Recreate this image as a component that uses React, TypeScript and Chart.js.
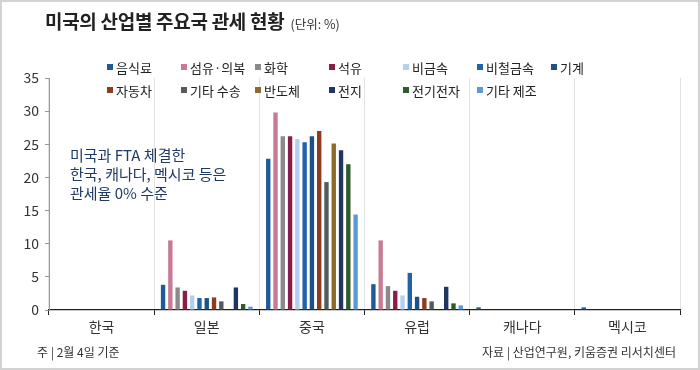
import React, { useEffect, useRef } from "react";
import { Chart, registerables } from "chart.js";

Chart.register(...registerables);

const FONT = '"Noto Sans CJK KR", "Noto Sans", sans-serif';

const categories = ["한국", "일본", "중국", "유럽", "캐나다", "멕시코"];

const seriesNames = [
  "음식료", "섬유·의복", "화학", "석유", "비금속", "비철금속", "기계",
  "자동차", "기타 수송", "반도체", "전지", "전기전자", "기타 제조",
];

const seriesColors = [
  "#1f5a96", "#c87a95", "#8a8a8a", "#8a1e48", "#b3d0ee", "#1f63aa", "#1d4f88",
  "#8e3b1f", "#555a5a", "#8c6a2b", "#1f3663", "#2f5a2c", "#5a9bd6",
];

// values per series, in category order: 한국, 일본, 중국, 유럽, 캐나다, 멕시코
const foodValues = [0, 3.8, 22.8, 3.9, 0.4, 0.4];
const textileValues = [0, 10.5, 29.8, 10.5, 0, 0];
const chemicalValues = [0, 3.4, 26.2, 3.6, 0, 0];
const petroleumValues = [0, 2.9, 26.2, 2.9, 0, 0];
const nonMetalValues = [0, 2.2, 25.8, 2.2, 0, 0];
const nonFerrousValues = [0, 1.8, 25.3, 5.6, 0, 0];
const machineryValues = [0, 1.8, 26.2, 2.0, 0, 0];
const autoValues = [0, 1.9, 27.0, 1.8, 0, 0];
const otherTransportValues = [0, 1.3, 19.3, 1.3, 0, 0];
const semiconductorValues = [0, 0, 25.1, 0, 0, 0];
const batteryValues = [0, 3.4, 24.1, 3.5, 0, 0];
const electronicsValues = [0, 0.9, 22.0, 1.0, 0, 0];
const otherMfgValues = [0, 0.5, 14.4, 0.7, 0, 0];

const seriesValues = [
  foodValues, textileValues, chemicalValues, petroleumValues, nonMetalValues,
  nonFerrousValues, machineryValues, autoValues, otherTransportValues,
  semiconductorValues, batteryValues, electronicsValues, otherMfgValues,
];

const yMin = 0;
const yMax = 35;
const yStep = 5;

const titleText = "미국의 산업별 주요국 관세 현황";
const unitText = "(단위: %)";
const noteLines = ["미국과 FTA 체결한", "한국, 캐나다, 멕시코 등은", "관세율 0% 수준"];
const footLeft = "주 | 2월 4일 기준";
const footRight = "자료 | 산업연구원, 키움증권 리서치센터";

export default function App() {
  const ref = useRef<HTMLCanvasElement>(null);

  useEffect(() => {
    if (!ref.current) return;
    const chart = new Chart(ref.current, {
      type: "bar",
      data: {
        labels: categories,
        datasets: seriesNames.map((name, i) => ({
          label: name,
          data: seriesValues[i],
          backgroundColor: seriesColors[i],
          borderWidth: 0,
          categoryPercentage: 0.9,
          barPercentage: 0.6,
        })),
      },
      options: {
        animation: false,
        responsive: false,
        maintainAspectRatio: false,
        layout: { padding: { left: 0, right: 20, top: 78, bottom: 0 } },
        plugins: { legend: { display: false }, tooltip: { enabled: false } },
        scales: {
          x: {
            grid: {
              offset: true,
              color: "#e2e2e2",
              tickColor: "#222",
              tickLength: 5,
              lineWidth: 1,
            },
            border: { color: "#222", width: 1.2 },
            ticks: { color: "#333", font: { size: 14, family: FONT }, padding: 3 },
            afterFit: (s: any) => {
              s.height = 60;
            },
          },
          y: {
            min: yMin,
            max: yMax,
            ticks: {
              stepSize: yStep,
              color: "#333",
              font: { size: 14, family: FONT },
              padding: 6,
            },
            grid: { drawOnChartArea: false, color: "#999", tickLength: 4 },
            border: { color: "#999" },
            afterFit: (s: any) => {
              s.width = 49;
            },
          },
        },
      },
    });
    return () => chart.destroy();
  }, []);

  return (
    <div
      style={{
        position: "absolute",
        left: 0,
        top: 0,
        width: 700,
        height: 370,
        background: "#fff",
        fontFamily: FONT,
        overflow: "hidden",
      }}
    >
      <canvas ref={ref} width={700} height={370} style={{ position: "absolute", left: 0, top: 0 }} />
      <div
        style={{
          position: "absolute",
          left: 45,
          top: 8,
          whiteSpace: "nowrap",
          color: "#222",
          lineHeight: "26px",
        }}
      >
        <span style={{ fontSize: 19, fontWeight: 700, letterSpacing: -0.3 }}>{titleText}</span>
        <span style={{ fontSize: 12.5, marginLeft: 6, color: "#333" }}>{unitText}</span>
      </div>
      {seriesNames.map((name, i) => {
        const col = i % 7;
        const row = Math.floor(i / 7);
        return (
          <div
            key={name}
            style={{
              position: "absolute",
              left: 107 + col * 74,
              top: 58 + row * 23,
              height: 18,
              display: "flex",
              alignItems: "center",
              whiteSpace: "nowrap",
              fontSize: 13,
              color: "#222",
            }}
          >
            <span
              style={{
                display: "inline-block",
                width: 6,
                height: 6,
                background: seriesColors[i],
                marginRight: 3,
              }}
            />
            {name}
          </div>
        );
      })}
      <div
        style={{
          position: "absolute",
          left: 70,
          top: 145,
          fontSize: 15,
          lineHeight: "19px",
          color: "#1f3a66",
          whiteSpace: "nowrap",
        }}
      >
        {noteLines.map((l) => (
          <div key={l}>{l}</div>
        ))}
      </div>
      <div
        style={{
          position: "absolute",
          left: 37,
          top: 343,
          fontSize: 12,
          lineHeight: "18px",
          color: "#333",
          whiteSpace: "nowrap",
        }}
      >
        {footLeft}
      </div>
      <div
        style={{
          position: "absolute",
          right: 24,
          top: 343,
          fontSize: 12,
          lineHeight: "18px",
          color: "#333",
          whiteSpace: "nowrap",
        }}
      >
        {footRight}
      </div>
      <div
        style={{
          position: "absolute",
          left: 0,
          top: 0,
          width: 700,
          height: 370,
          boxSizing: "border-box",
          border: "2px solid #d2d2d2",
          pointerEvents: "none",
        }}
      />
    </div>
  );
}
